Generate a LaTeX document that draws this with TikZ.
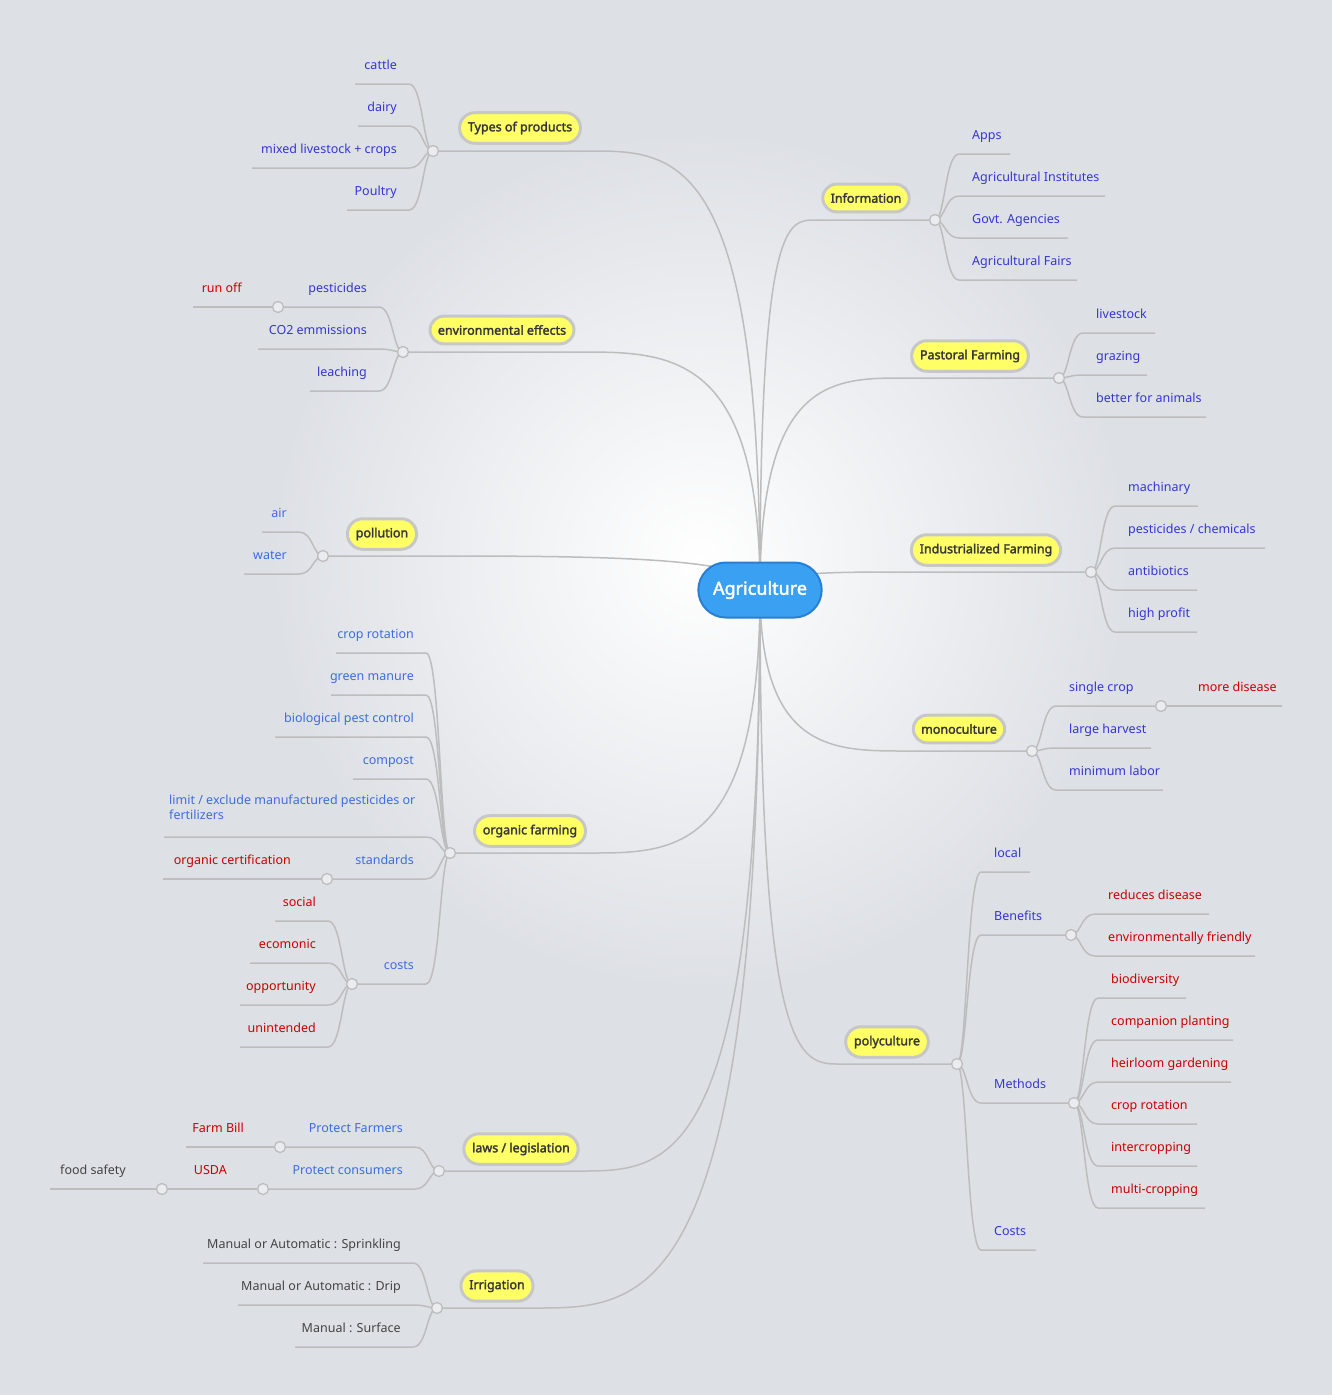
\documentclass[tikz,border=0pt]{standalone}
\usepackage{fontspec}
\setmainfont[AutoFakeBold=2.2]{Noto Sans}
\usetikzlibrary{shapes.misc}
\definecolor{bg}{HTML}{DDE0E5}
\definecolor{ln}{HTML}{BDBDBD}
\definecolor{bT}{HTML}{3535D5}
\definecolor{lT}{HTML}{3D6DE0}
\definecolor{rT}{HTML}{CC0000}
\definecolor{gT}{HTML}{444444}
\definecolor{yel}{HTML}{FFFF66}
\definecolor{cb}{HTML}{3AA0F2}
\definecolor{cbd}{HTML}{2A7FD4}
\tikzset{
 br/.style={draw=ln,line width=1.5pt},
 kid/.style={font=\fontsize{12.5}{15}\selectfont,inner sep=0pt},
 jn/.style={circle,draw=ln,fill=bg!60!white,line width=1.3pt,minimum size=11pt,inner sep=0pt},
 topic/.style={rounded rectangle,draw=ln!85!white,line width=3pt,fill=yel,font=\fontsize{12.5}{15}\selectfont\bfseries,text=gT!80!black,inner xsep=7pt,inner ysep=9pt},
}
\newcommand\LK[6]{\draw[br] (#1,#2) .. controls (#1-10,#2) and (#1-10,#3) .. (#1-24,#3) -- (#4,#3);
 \node[kid,anchor=base east,text=#5] at (#1-36,#3-14.5) {#6};}
\newcommand\RK[6]{\draw[br] (#1,#2) .. controls (#1+10,#2) and (#1+10,#3) .. (#1+24,#3) -- (#4,#3);
 \node[kid,anchor=base west,text=#5] at (#1+37,#3-14.5) {#6};}
\newcommand\BR[3]{\draw[br] (C) .. controls (760,#2) and ({(760+#1)/2},#2) .. (#1,#2) -- (#3,#2);}
\newcommand\J[2]{\node[jn] at (#1,#2) {};}
\begin{document}
\begin{tikzpicture}[x=1pt,y=-1pt]
\fill[bg] (0,0) rectangle (1332,1395);
\shade[inner color=white,outer color=bg] (700,560) circle (430);
\useasboundingbox (0,0) rectangle (1332,1395);
\coordinate (C) at (760,590);
\BR{590}{151}{433}\BR{580}{352}{403}\BR{420}{556}{323}\BR{590}{853}{450}\BR{580}{1171}{439}\BR{535}{1308}{437}
\BR{815}{220}{935}\BR{905}{378}{1059}\BR{905}{572}{1091}\BR{905}{751}{1032}\BR{840}{1064}{957}
\LK{433}{151}{84}{355}{bT}{cattle}\LK{433}{151}{126}{358}{bT}{dairy}\LK{433}{151}{168}{252}{bT}{mixed livestock + crops}\LK{433}{151}{210}{347}{bT}{Poultry}
\LK{403}{352}{307}{278}{bT}{pesticides}\LK{403}{352}{349}{258}{bT}{CO2 emmissions}\LK{403}{352}{391}{310}{bT}{leaching}
\LK{278}{307}{307}{193}{rT}{run off}
\LK{323}{556}{532}{262}{lT}{air}\LK{323}{556}{574}{244}{lT}{water}
\LK{450}{853}{653}{336}{lT}{crop rotation}\LK{450}{853}{695}{331}{lT}{green manure}\LK{450}{853}{737}{275}{lT}{biological pest control}\LK{450}{853}{779}{353}{lT}{compost}
\LK{450}{853}{837}{164}{lT}{}
\node[kid,text=lT,anchor=north west,align=left] (lim) at (169,795) {limit / exclude manufactured pesticides or\\fertilizers};
\LK{450}{853}{879}{326}{lT}{standards}\LK{450}{853}{984}{352}{lT}{costs}
\LK{327}{879}{879}{163}{rT}{organic certification}
\LK{352}{984}{921}{275}{rT}{social}\LK{352}{984}{963}{250}{rT}{ecomonic}\LK{352}{984}{1005}{240}{rT}{opportunity}\LK{352}{984}{1047}{240}{rT}{unintended}
\LK{439}{1171}{1147}{280}{lT}{Protect Farmers}\LK{439}{1171}{1189}{263}{lT}{Protect consumers}
\LK{280}{1147}{1147}{186}{rT}{Farm Bill}\LK{263}{1189}{1189}{162}{rT}{USDA}\LK{162}{1189}{1189}{50}{gT}{food safety}
\LK{437}{1308}{1263}{203}{gT}{Manual or Automatic : Sprinkling}\LK{437}{1308}{1305}{238}{gT}{Manual or Automatic : Drip}\LK{437}{1308}{1347}{295}{gT}{Manual : Surface}
\RK{935}{220}{154}{1010}{bT}{Apps}\RK{935}{220}{196}{1105}{bT}{Agricultural Institutes}\RK{935}{220}{238}{1068}{bT}{Govt. Agencies}\RK{935}{220}{280}{1077}{bT}{Agricultural Fairs}
\RK{1059}{378}{333}{1155}{bT}{livestock}\RK{1059}{378}{375}{1147}{bT}{grazing}\RK{1059}{378}{417}{1206}{bT}{better for animals}
\RK{1091}{572}{506}{1198}{bT}{machinary}\RK{1091}{572}{548}{1265}{bT}{pesticides / chemicals}\RK{1091}{572}{590}{1197}{bT}{antibiotics}\RK{1091}{572}{632}{1197}{bT}{high profit}
\RK{1032}{751}{706}{1161}{bT}{single crop}\RK{1032}{751}{748}{1151}{bT}{large harvest}\RK{1032}{751}{790}{1163}{bT}{minimum labor}
\RK{1161}{706}{706}{1282}{rT}{more disease}
\RK{957}{1064}{872}{1030}{bT}{local}\RK{957}{1064}{935}{1071}{bT}{Benefits}\RK{957}{1064}{1103}{1074}{bT}{Methods}\RK{957}{1064}{1250}{1036}{bT}{Costs}
\RK{1071}{935}{914}{1209}{rT}{reduces disease}\RK{1071}{935}{956}{1255}{rT}{environmentally friendly}
\RK{1074}{1103}{998}{1186}{rT}{biodiversity}\RK{1074}{1103}{1040}{1233}{rT}{companion planting}\RK{1074}{1103}{1082}{1231}{rT}{heirloom gardening}\RK{1074}{1103}{1124}{1197}{rT}{crop rotation}\RK{1074}{1103}{1166}{1197}{rT}{intercropping}\RK{1074}{1103}{1208}{1205}{rT}{multi-cropping}
\J{433}{151}\J{403}{352}\J{278}{307}\J{323}{556}\J{450}{853}\J{327}{879}\J{352}{984}\J{439}{1171}\J{280}{1147}\J{263}{1189}\J{162}{1189}\J{437}{1308}
\J{935}{220}\J{1059}{378}\J{1091}{572}\J{1032}{751}\J{1161}{706}\J{957}{1064}\J{1071}{935}\J{1074}{1103}
\node[topic] (types) at (520,128) {Types of products};
\node[topic] (env) at (502,330) {environmental effects};
\node[topic] (pol) at (382,534) {pollution};
\node[topic] (org) at (530,831) {organic farming};
\node[topic] (law) at (521,1149) {laws / legislation};
\node[topic] (irr) at (497,1286) {Irrigation};
\node[topic] (inf) at (866,198) {Information};
\node[topic] (pas) at (970,356) {Pastoral Farming};
\node[topic] (ind) at (986,550) {Industrialized Farming};
\node[topic] (mon) at (959,729) {monoculture};
\node[topic] (poly) at (887,1042) {polyculture};
\node[rounded rectangle,fill=cb,draw=cbd,line width=2pt,minimum width=130pt,minimum height=55pt,text=white,font=\fontsize{18}{20}\selectfont\bfseries] (agri) at (760,590) {Agriculture};
\end{tikzpicture}
\end{document}
